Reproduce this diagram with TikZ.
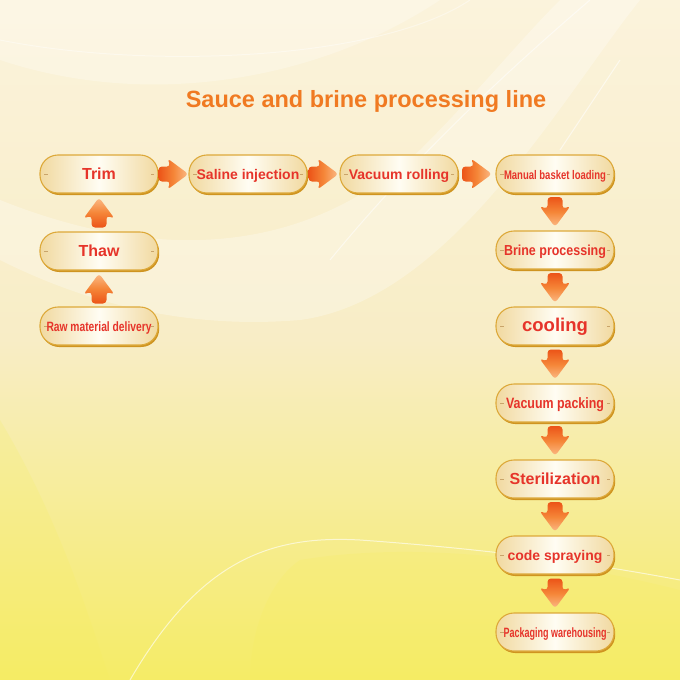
\documentclass[tikz,border=0pt]{standalone}
\usepackage{fontspec}
\setmainfont{Liberation Sans}
\usepackage{graphicx}
\usetikzlibrary{shadows}
\definecolor{bgtop}{HTML}{FBF3DC}
\definecolor{bgmid}{HTML}{F8EDC6}
\definecolor{bgbot}{HTML}{F5EC66}
\definecolor{bgyel}{HTML}{F6EE5C}
\definecolor{boxedge}{HTML}{F1D9A0}
\definecolor{boxmid}{HTML}{FFFDF3}
\definecolor{boxline}{HTML}{DDA93A}
\definecolor{boxshadow}{HTML}{CF9420}
\definecolor{ticktan}{HTML}{C9A46A}
\definecolor{labred}{HTML}{E6342A}
\definecolor{titleorange}{HTML}{F07A22}
\definecolor{arrdark}{HTML}{EC5418}
\definecolor{arrmid}{HTML}{F58638}
\definecolor{arrlight}{HTML}{FBBB88}
\tikzset{
  stepbox/.style={rectangle, rounded corners=18pt, minimum width=118pt, minimum height=38pt,
    inner sep=0pt, text height=10.5pt, text depth=0pt, text=labred,
    font=\bfseries\fontsize{#1}{#1}\selectfont,
    left color=boxedge, right color=boxedge, middle color=boxmid,
    draw=boxline, line width=1.1pt,
    drop shadow={shadow xshift=1.2pt, shadow yshift=-2pt, fill=boxshadow, opacity=1},
    path picture={
      \draw[ticktan, line width=0.6pt] ([xshift=4pt]path picture bounding box.west) -- ++(3.5pt,0pt);
      \draw[ticktan, line width=0.6pt] ([xshift=-4pt]path picture bounding box.east) -- ++(-3.5pt,0pt);
    }},
  rarr/.pic={\shade[left color=arrdark, right color=arrlight, middle color=arrmid, rounded corners=3.5pt]
    (-15,-7.5) -- (-3,-7.5) -- (-6,-15.5) -- (15,0) -- (-6,15.5) -- (-3,7.5) -- (-15,7.5) -- cycle;},
  darr/.pic={\shade[top color=arrdark, bottom color=arrlight, middle color=arrmid, rounded corners=3.5pt]
    (-7.5,-15) -- (-7.5,-3) -- (-15.5,-6) -- (0,15) -- (15.5,-6) -- (7.5,-3) -- (7.5,-15) -- cycle;},
  uarr/.pic={\shade[bottom color=arrdark, top color=arrlight, middle color=arrmid, rounded corners=3.5pt]
    (-7.5,15) -- (-7.5,3) -- (-15.5,6) -- (0,-15) -- (15.5,6) -- (7.5,3) -- (7.5,15) -- cycle;},
  swoosh/.style={white, line width=1pt, opacity=0.55},
}
\begin{document}
\begin{tikzpicture}[x=1pt,y=-1pt]
% background
\useasboundingbox (0,0) rectangle (680,680);
\shade[top color=bgtop, bottom color=bgbot, middle color=bgmid] (0,0) rectangle (680,680);
\fill[bgyel, opacity=0.18] (0,420) .. controls (60,520) and (90,620) .. (110,680) -- (0,680) -- cycle;
\fill[bgyel, opacity=0.2] (300,560) .. controls (420,540) and (560,560) .. (680,590) -- (680,680) -- (250,680) .. controls (250,630) and (270,580) .. (300,560) -- cycle;
\fill[white, opacity=0.28] (0,200) .. controls (150,260) and (300,260) .. (420,150)
   .. controls (480,90) and (520,40) .. (560,0) -- (640,0)
   .. controls (560,100) and (450,300) .. (300,320)
   .. controls (180,330) and (80,300) .. (0,260) -- cycle;
\fill[white, opacity=0.25] (0,60) .. controls (150,110) and (320,80) .. (440,0) -- (0,0) -- cycle;
\draw[swoosh] (330,260) .. controls (420,150) and (520,60) .. (590,0);
\draw[swoosh] (620,60) .. controls (600,90) and (580,120) .. (560,150);
\draw[swoosh, opacity=0.4] (0,40) .. controls (150,70) and (380,60) .. (470,0);
\draw[swoosh, opacity=0.6] (130,680) .. controls (200,560) and (270,535) .. (360,540)
   .. controls (500,550) and (600,565) .. (680,580);
% title
\node[font=\bfseries\fontsize{23.5}{23.5}\selectfont, text=titleorange, anchor=base] (title) at (366,107) {Sauce and brine processing line};
% boxes
\node[stepbox=16] (trim) at (99,174) {Trim};
\node[stepbox=14] (sal) at (248,174) {Saline injection};
\node[stepbox=14] (vroll) at (399,174) {Vacuum rolling};
\node[stepbox=12.5] (mbl) at (555,174) {\resizebox{102pt}{\height}{Manual basket loading}};
\node[stepbox=16] (thaw) at (99,251) {Thaw};
\node[stepbox=13.5] (raw) at (99,326) {\resizebox{105pt}{\height}{Raw material delivery}};
\node[stepbox=14.5] (brine) at (555,250) {\resizebox{102pt}{\height}{Brine processing}};
\node[stepbox=18.5] (cool) at (555,326) {cooling};
\node[stepbox=15] (vpack) at (555,403) {\resizebox{98pt}{\height}{Vacuum packing}};
\node[stepbox=16] (steril) at (555,479) {Sterilization};
\node[stepbox=14] (code) at (555,555) {code spraying};
\node[stepbox=13.5] (pack) at (555,632) {\resizebox{103pt}{\height}{Packaging warehousing}};
% arrows
\path (raw.north) -- (thaw.south) coordinate[midway] (u1);
\path (thaw.north) -- (trim.south) coordinate[midway] (u2);
\path (trim.east) -- (sal.west) coordinate[midway] (r1);
\path (sal.east) -- (vroll.west) coordinate[midway] (r2);
\path (vroll.east) -- (mbl.west) coordinate[midway] (r3);
\path (mbl.south) -- (brine.north) coordinate[midway] (d1);
\path (brine.south) -- (cool.north) coordinate[midway] (d2);
\path (cool.south) -- (vpack.north) coordinate[midway] (d3);
\path (vpack.south) -- (steril.north) coordinate[midway] (d4);
\path (steril.south) -- (code.north) coordinate[midway] (d5);
\path (code.south) -- (pack.north) coordinate[midway] (d6);
\pic at (u1) {uarr};
\pic at (u2) {uarr};
\pic at (r1) {rarr};
\pic at (r2) {rarr};
\pic at (r3) {rarr};
\pic at (d1) {darr};
\pic at (d2) {darr};
\pic at (d3) {darr};
\pic at (d4) {darr};
\pic at (d5) {darr};
\pic at (d6) {darr};
\end{tikzpicture}
\end{document}
